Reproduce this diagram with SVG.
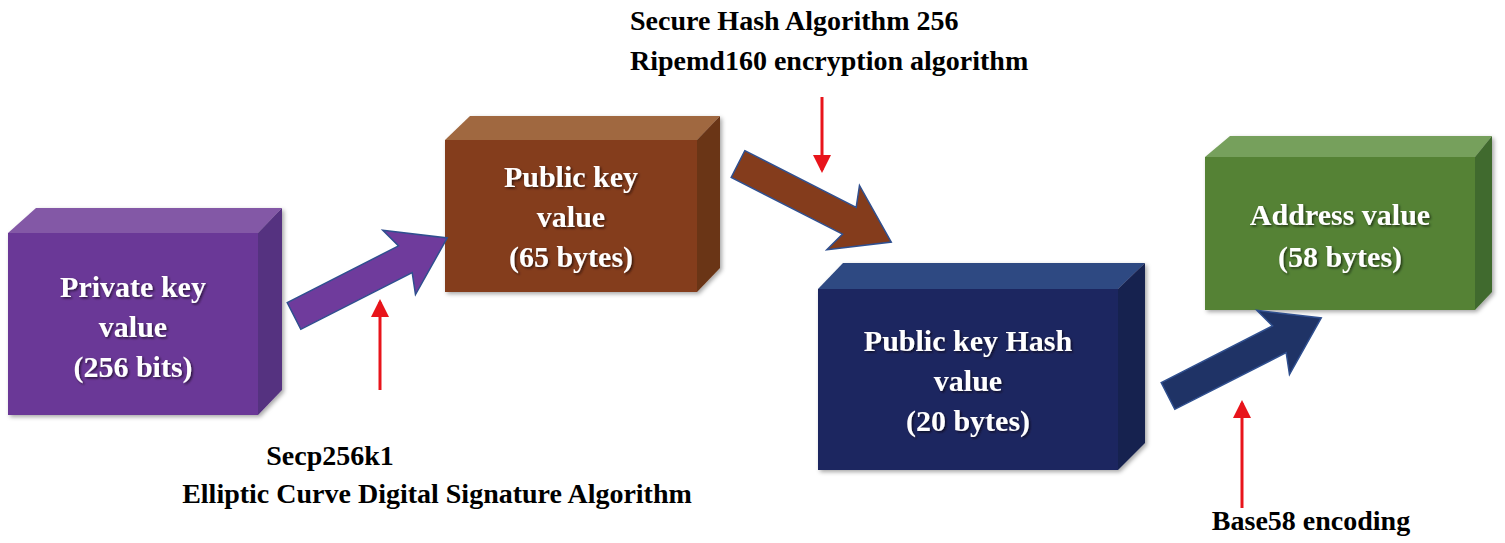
<svg xmlns="http://www.w3.org/2000/svg" width="1505" height="543" viewBox="0 0 1505 543">
<defs>
<style>
.bt{font-family:"Liberation Serif",serif;font-weight:bold;font-size:30px;fill:#fff;text-anchor:middle}
.lb{font-family:"Liberation Serif",serif;font-weight:bold;font-size:28px;fill:#000}
.red{stroke:#e8141b;stroke-width:3;fill:none;marker-end:url(#rh)}
.ar{stroke:#2f4f8f;stroke-width:1.5}
</style>
<marker id="rh" markerWidth="6" markerHeight="6" refX="5" refY="3" orient="auto" markerUnits="strokeWidth"><path d="M0,0 L6,3 L0,6 Z" fill="#e8141b"/></marker>
<filter id="sh" x="-10%" y="-10%" width="130%" height="130%"><feDropShadow dx="2" dy="2" stdDeviation="2" flood-opacity="0.35"/></filter>
<filter id="ts"><feDropShadow dx="1.5" dy="1.5" stdDeviation="1" flood-opacity="0.6"/></filter>
<path id="blk" d="M0,-15 L125,-15 L118,-36 L172,0 L118,36 L125,15 L0,15 Z"/>
</defs>
<rect width="1505" height="543" fill="#fff"/>
<g id="private" filter="url(#sh)">
<polygon points="8,233 36,208 282,208 258,233" fill="#8359a6"/>
<polygon points="258,233 282,208 282,390 258,415" fill="#553080"/>
<rect x="8" y="233" width="250" height="182" fill="#6b3897"/>
<g filter="url(#ts)"><text class="bt" x="133" y="297">Private key</text><text class="bt" x="133" y="337">value</text><text class="bt" x="133" y="377">(256 bits)</text></g>
</g>
<g id="public" filter="url(#sh)">
<polygon points="445,140 470,116 720,116 697,140" fill="#a0673f"/>
<polygon points="697,140 720,116 720,268 697,292" fill="#6b3516"/>
<rect x="445" y="140" width="252" height="152" fill="#843c1c"/>
<g filter="url(#ts)"><text class="bt" x="571" y="187">Public key</text><text class="bt" x="571" y="227">value</text><text class="bt" x="571" y="267">(65 bytes)</text></g>
</g>
<g id="hash" filter="url(#sh)">
<polygon points="818,289 843,263 1145,263 1118,289" fill="#2e4a82"/>
<polygon points="1118,289 1145,263 1145,443 1118,470" fill="#18204f"/>
<rect x="818" y="289" width="300" height="181" fill="#1f2660"/>
<g filter="url(#ts)"><text class="bt" x="968" y="351">Public key Hash</text><text class="bt" x="968" y="391">value</text><text class="bt" x="968" y="431">(20 bytes)</text></g>
</g>
<g id="address" filter="url(#sh)">
<polygon points="1205,157 1230,136 1492,136 1475,157" fill="#76a05b"/>
<polygon points="1475,157 1492,136 1492,292 1475,310" fill="#416b2f"/>
<rect x="1205" y="157" width="270" height="153" fill="#548235"/>
<g filter="url(#ts)"><text class="bt" x="1340" y="225">Address value</text><text class="bt" x="1340" y="267">(58 bytes)</text></g>
</g>
<g id="connectors">
<use href="#blk" class="ar" fill="#6f3b9c" transform="translate(294,316) rotate(-27)"/>
<use href="#blk" class="ar" fill="#843c1c" transform="translate(738,164) rotate(27)"/>
<use href="#blk" class="ar" fill="#1f3366" transform="translate(1168,396) rotate(-27)"/>
<line class="red" x1="380" y1="390" x2="380" y2="302"/>
<line class="red" x1="822" y1="97" x2="822" y2="170"/>
<line class="red" x1="1242" y1="508" x2="1242" y2="403"/>
</g>
<g id="labels">
<text class="lb" x="630" y="30">Secure Hash Algorithm 256</text>
<text class="lb" x="630" y="70">Ripemd160 encryption algorithm</text>
<text class="lb" x="330" y="465" text-anchor="middle">Secp256k1</text>
<text class="lb" x="437" y="503" text-anchor="middle">Elliptic Curve Digital Signature Algorithm</text>
<text class="lb" x="1311" y="530" text-anchor="middle">Base58 encoding</text>
</g>
</svg>
